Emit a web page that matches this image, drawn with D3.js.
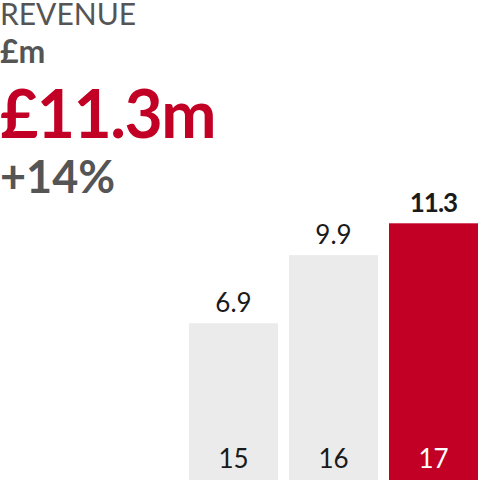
<!DOCTYPE html>
<html>
<head>
<meta charset="utf-8">
<script src="https://cdn.jsdelivr.net/npm/d3@7"></script>
<style>
  body { margin: 0; background: #fff; }
  text { font-family: Lato, sans-serif; }
</style>
</head>
<body>
<script>
const width = 479;
const height = 481;

// Dati
const years = ['15', '16', '17'];
const revenue = [6.9, 9.9, 11.3];
const valueLabels = ['6.9', '9.9', '11.3'];

const red = '#c20025';
const grey = '#ebebeb';

const svg = d3.select('body').append('svg')
  .attr('width', width)
  .attr('height', height);

// Titoli
svg.append('text').attr('x', 0).attr('y', 25)
  .attr('font-size', 30).attr('font-weight', 400).attr('fill', '#555')
  .text('REVENUE');
svg.append('text').attr('x', 0).attr('y', 63)
  .attr('font-size', 32).attr('font-weight', 700).attr('fill', '#555')
  .text('£m');
svg.append('text').attr('x', 0).attr('y', 138)
  .attr('font-size', 66).attr('font-weight', 700).attr('fill', red)
  .attr('letter-spacing', -1.5)
  .text('£11.3m');
svg.append('text').attr('x', 0).attr('y', 193)
  .attr('font-size', 45).attr('font-weight', 700).attr('fill', '#555')
  .text('+14%');

// Scale
const x = d3.scaleBand()
  .domain(years)
  .range([189, 478])
  .paddingInner(0.11)
  .paddingOuter(0);

const y = d3.scaleLinear()
  .domain([0, 11.3])
  .range([480, 223.3]);

const data = years.map((d, i) => ({ year: d, value: revenue[i], label: valueLabels[i], last: i === years.length - 1 }));

// Barre
svg.selectAll('rect.bar')
  .data(data)
  .enter()
  .append('rect')
  .attr('class', 'bar')
  .attr('x', d => x(d.year))
  .attr('y', d => y(d.value))
  .attr('width', x.bandwidth())
  .attr('height', d => y(0) - y(d.value))
  .attr('fill', d => d.last ? red : grey);

// Valori
svg.selectAll('text.val')
  .data(data)
  .enter()
  .append('text')
  .attr('class', 'val')
  .attr('x', d => x(d.year) + x.bandwidth() / 2)
  .attr('y', d => y(d.value) - 11)
  .attr('text-anchor', 'middle')
  .attr('font-size', 26)
  .attr('font-weight', d => d.last ? 700 : 400)
  .attr('fill', '#1a1a1a')
  .attr('letter-spacing', d => d.last ? -1 : 0)
  .text(d => d.label);

// Anni
svg.selectAll('text.year')
  .data(data)
  .enter()
  .append('text')
  .attr('class', 'year')
  .attr('x', d => x(d.year) + x.bandwidth() / 2)
  .attr('y', 468)
  .attr('text-anchor', 'middle')
  .attr('font-size', 26)
  .attr('font-weight', 400)
  .attr('fill', d => d.last ? '#fff' : '#1a1a1a')
  .text(d => d.year);
</script>
</body>
</html>
